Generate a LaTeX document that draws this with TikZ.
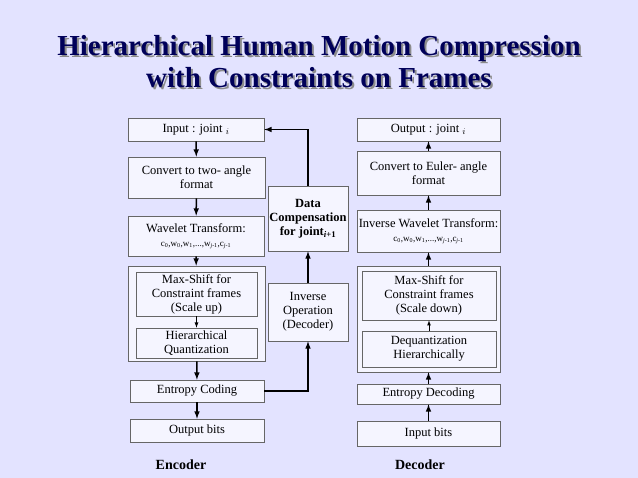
\documentclass[tikz,border=0pt]{standalone}
\usepackage{amsmath}
\usepackage{fontspec}
\setmainfont{Liberation Serif}
\begin{document}
\begin{tikzpicture}[x=1pt,y=-1pt,
  bx/.style={draw=black!60,fill=blue!4,line width=0.6pt,align=center,font=\fontsize{12.5}{14}\selectfont},
  ar/.style={-latex,line width=1.5pt},
  tt/.style={font=\fontsize{29}{32}\bfseries\selectfont,text=blue!35!black}]
\fill[blue!11!white] (0,0) rectangle (638,478);
\useasboundingbox (0,0) rectangle (638,478);
\node[tt,text=black!45,align=center] (tsh) at (321,64) {Hierarchical Human Motion Compression\\with Constraints on Frames};
\node[tt,align=center] (title) at (319,62) {Hierarchical Human Motion Compression\\with Constraints on Frames};
\newcommand{\bb}[6]{\node[bx,minimum width=#3-#2,minimum height=#5-#4,inner sep=0pt] (#1) at ({(#2+#3)/2},{(#4+#5)/2}) {#6};}
\bb{in}{128}{264}{118}{141}{Input : joint $_i$}
\bb{cv}{128}{265}{157}{198}{Convert to two- angle\\format}
\bb{wt}{128}{264}{216}{256}{Wavelet Transform:\\{\small c\textsubscript{0},w\textsubscript{0},w\textsubscript{1},...,w\textsubscript{\textit{j}-1},c\textsubscript{\textit{j}-1}}}
\bb{g1}{128}{265}{266}{361}{}
\bb{ms}{136}{257}{272}{316}{Max-Shift for\\Constraint frames\\(Scale up)}
\bb{hq}{136}{257}{328}{358}{Hierarchical\\Quantization}
\bb{ec}{130}{264}{380}{402}{Entropy Coding}
\bb{ob}{130}{264}{419}{442}{Output bits}
\bb{dc}{268}{348}{186}{251}{\textbf{Data}\\\textbf{Compensation}\\\textbf{for joint\textsubscript{\textit{i}+1}}}
\bb{io}{268}{348}{283}{341}{Inverse\\Operation\\(Decoder)}
\bb{out}{357}{500}{118}{141}{Output : joint $_i$}
\bb{ce}{357}{500}{151}{195}{Convert to Euler- angle\\format}
\bb{iw}{357}{500}{210}{252}{Inverse Wavelet Transform:\\{\small c\textsubscript{0},w\textsubscript{0},w\textsubscript{1},...,w\textsubscript{\textit{j}-1},c\textsubscript{\textit{j}-1}}}
\bb{g2}{357}{500}{266}{372}{}
\bb{md}{362}{496}{271}{320}{Max-Shift for\\Constraint frames\\(Scale down)}
\bb{dq}{362}{496}{331}{367}{Dequantization\\Hierarchically}
\bb{ed}{357}{500}{384}{404}{Entropy Decoding}
\bb{ib}{357}{500}{421}{446}{Input bits}
\node[font=\fontsize{14}{16}\bfseries\selectfont] (enc) at (181,465) {Encoder};
\node[font=\fontsize{14}{16}\bfseries\selectfont] (dec) at (420,465) {Decoder};
\draw[ar] (in) -- (cv);
\draw[ar] (cv) -- (wt);
\draw[ar] (wt) -- (g1);
\draw[ar,line width=0.8pt] (ms) -- (hq);
\draw[ar] (g1) -- (ec);
\draw[ar] (ec) -- (ob);
\draw[ar] (ec.east) -| (io.south);
\draw[ar] (io) -- (dc);
\draw[ar] (dc.north) |- (in.east);
\draw[ar] (ib) -- (ed);
\draw[ar] (ed) -- (g2);
\draw[ar,line width=0.8pt] (dq) -- (md);
\draw[ar] (g2) -- (iw);
\draw[ar] (iw) -- (ce);
\draw[ar] (ce) -- (out);
\end{tikzpicture}
\end{document}
